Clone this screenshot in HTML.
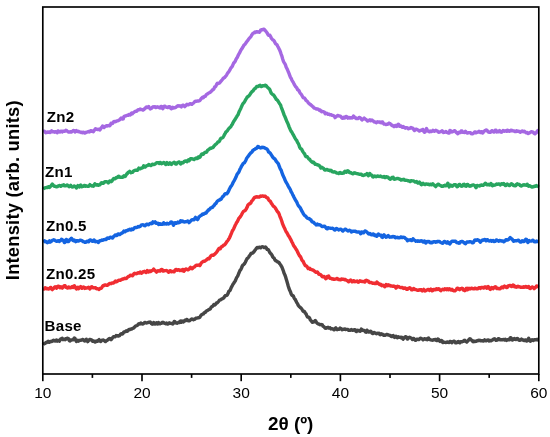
<!DOCTYPE html>
<html lang="en">
<head>
<meta charset="utf-8">
<title>XRD patterns</title>
<style>
html,body{margin:0;padding:0;background:#fff;}
body{width:550px;height:437px;overflow:hidden;font-family:"Liberation Sans",sans-serif;}
svg{display:block;}
.tick text{font-family:"Liberation Sans",sans-serif;font-size:15.5px;fill:#000;}
.b{font-family:"Liberation Sans",sans-serif;font-weight:bold;fill:#000;}
</style>
</head>
<body>
<svg width="550" height="437" viewBox="0 0 550 437">
<rect x="0" y="0" width="550" height="437" fill="#ffffff"/>
<g id="curves">
<path d="M43.1,344.9 43.8,343.9 44.5,343.5 45.2,343.3 45.9,342.5 46.6,342.5 47.4,342.0 48.1,341.4 48.8,342.4 49.5,342.3 50.2,341.4 50.9,341.4 51.6,341.6 52.3,341.2 53.0,340.6 53.7,340.2 54.4,340.9 55.1,341.0 55.9,340.5 56.6,340.0 57.3,341.1 58.0,340.6 58.7,340.4 59.4,341.2 60.1,340.0 60.8,338.8 61.5,338.6 62.2,338.3 62.9,339.6 63.7,339.3 64.4,339.2 65.1,339.7 65.8,338.8 66.5,339.0 67.2,338.1 67.9,338.3 68.6,338.9 69.3,340.7 70.0,341.0 70.7,340.0 71.4,340.1 72.2,339.9 72.9,339.9 73.6,339.0 74.3,338.1 75.0,338.4 75.7,340.2 76.4,341.5 77.1,340.6 77.8,340.2 78.5,341.2 79.2,340.7 80.0,340.3 80.7,340.3 81.4,340.1 82.1,339.7 82.8,339.4 83.5,340.3 84.2,340.7 84.9,341.1 85.6,340.1 86.3,339.2 87.0,340.5 87.7,341.6 88.5,340.6 89.2,339.7 89.9,339.4 90.6,339.6 91.3,340.0 92.0,340.2 92.7,341.3 93.4,340.9 94.1,341.1 94.8,342.0 95.5,342.0 96.3,341.0 97.0,341.1 97.7,341.2 98.4,340.3 99.1,339.6 99.8,340.9 100.5,341.5 101.2,341.0 101.9,340.1 102.6,340.1 103.3,340.0 104.1,340.4 104.8,341.3 105.5,341.5 106.2,340.8 106.9,340.4 107.6,340.0 108.3,339.4 109.0,338.8 109.7,338.4 110.4,338.8 111.1,339.7 111.8,338.9 112.6,337.6 113.3,336.9 114.0,336.6 114.7,336.9 115.4,336.6 116.1,335.6 116.8,335.9 117.5,335.8 118.2,336.1 118.9,335.8 119.6,335.6 120.4,334.4 121.1,333.8 121.8,333.9 122.5,334.0 123.2,333.1 123.9,331.9 124.6,331.9 125.3,331.6 126.0,331.0 126.7,330.8 127.4,331.3 128.1,330.2 128.9,329.5 129.6,329.7 130.3,329.4 131.0,329.0 131.7,329.0 132.4,328.6 133.1,328.2 133.8,328.0 134.5,327.2 135.2,326.3 135.9,325.8 136.7,325.6 137.4,325.4 138.1,324.4 138.8,323.8 139.5,324.1 140.2,323.4 140.9,323.0 141.6,323.9 142.3,323.8 143.0,324.0 143.7,323.4 144.4,322.7 145.2,322.5 145.9,322.9 146.6,323.0 147.3,322.7 148.0,322.6 148.7,322.2 149.4,322.4 150.1,321.9 150.8,322.7 151.5,323.7 152.2,324.2 153.0,324.0 153.7,322.5 154.4,323.4 155.1,324.1 155.8,323.7 156.5,322.7 157.2,323.5 157.9,324.0 158.6,322.6 159.3,323.3 160.0,323.8 160.7,323.1 161.5,323.2 162.2,322.5 162.9,322.3 163.6,322.6 164.3,323.2 165.0,323.5 165.7,323.8 166.4,323.0 167.1,323.3 167.8,324.1 168.5,323.7 169.3,322.8 170.0,323.3 170.7,323.2 171.4,323.5 172.1,323.7 172.8,324.0 173.5,323.0 174.2,321.5 174.9,321.7 175.6,322.9 176.3,323.0 177.0,323.3 177.8,322.8 178.5,322.3 179.2,322.6 179.9,321.4 180.6,321.0 181.3,322.2 182.0,321.0 182.7,321.6 183.4,322.0 184.1,321.1 184.8,320.2 185.6,320.8 186.3,319.7 187.0,319.4 187.7,320.1 188.4,320.9 189.1,320.8 189.8,320.6 190.5,319.9 191.2,319.4 191.9,318.9 192.6,319.3 193.4,319.7 194.1,319.3 194.8,319.2 195.5,318.5 196.2,318.1 196.9,318.1 197.6,317.9 198.3,317.8 199.0,317.6 199.7,317.5 200.4,316.2 201.1,315.2 201.9,314.4 202.6,314.3 203.3,314.0 204.0,312.9 204.7,312.5 205.4,312.3 206.1,311.3 206.8,310.7 207.5,310.6 208.2,309.9 208.9,309.5 209.7,309.4 210.4,308.7 211.1,307.4 211.8,306.6 212.5,306.4 213.2,305.5 213.9,304.5 214.6,305.0 215.3,304.5 216.0,303.8 216.7,302.8 217.4,302.8 218.2,301.8 218.9,301.0 219.6,300.1 220.3,299.9 221.0,299.5 221.7,299.1 222.4,298.7 223.1,298.3 223.8,297.8 224.5,296.6 225.2,295.7 226.0,295.5 226.7,295.3 227.4,294.8 228.1,293.3 228.8,291.4 229.5,290.9 230.2,290.2 230.9,288.4 231.6,286.8 232.3,285.6 233.0,284.2 233.7,283.2 234.5,282.0 235.2,281.0 235.9,279.3 236.6,277.6 237.3,276.6 238.0,275.4 238.7,273.5 239.4,271.8 240.1,270.2 240.8,269.6 241.5,268.0 242.3,266.0 243.0,264.9 243.7,264.5 244.4,263.8 245.1,262.6 245.8,261.3 246.5,259.6 247.2,258.5 247.9,258.1 248.6,257.1 249.3,256.0 250.0,255.2 250.8,253.7 251.5,253.2 252.2,253.3 252.9,253.0 253.6,252.0 254.3,251.3 255.0,250.1 255.7,249.3 256.4,248.4 257.1,247.5 257.8,247.6 258.6,247.7 259.3,247.2 260.0,247.4 260.7,247.8 261.4,247.1 262.1,246.8 262.8,246.9 263.5,246.9 264.2,247.6 264.9,247.4 265.6,247.1 266.3,247.9 267.1,249.4 267.8,249.4 268.5,249.9 269.2,251.3 269.9,252.6 270.6,253.5 271.3,254.1 272.0,255.2 272.7,256.8 273.4,257.6 274.1,258.1 274.9,259.9 275.6,260.7 276.3,260.8 277.0,261.3 277.7,262.0 278.4,262.2 279.1,262.7 279.8,263.9 280.5,264.6 281.2,266.0 281.9,267.0 282.6,268.9 283.4,271.0 284.1,273.3 284.8,274.7 285.5,276.6 286.2,279.0 286.9,281.3 287.6,283.7 288.3,286.2 289.0,288.4 289.7,290.3 290.4,291.6 291.2,294.0 291.9,295.3 292.6,295.5 293.3,295.9 294.0,297.7 294.7,299.0 295.4,299.6 296.1,301.3 296.8,302.6 297.5,303.6 298.2,305.2 299.0,306.3 299.7,306.8 300.4,307.7 301.1,308.2 301.8,309.0 302.5,310.2 303.2,311.2 303.9,311.3 304.6,311.7 305.3,313.2 306.0,313.8 306.7,315.4 307.5,317.0 308.2,317.2 308.9,317.2 309.6,318.1 310.3,319.9 311.0,320.6 311.7,321.5 312.4,322.2 313.1,322.1 313.8,322.0 314.5,321.4 315.3,320.5 316.0,321.5 316.7,322.8 317.4,323.4 318.1,323.9 318.8,324.0 319.5,324.4 320.2,324.8 320.9,324.5 321.6,324.6 322.3,324.9 323.0,326.2 323.8,326.6 324.5,327.3 325.2,328.1 325.9,328.2 326.6,327.8 327.3,327.9 328.0,327.3 328.7,328.1 329.4,328.1 330.1,327.8 330.8,328.9 331.6,328.6 332.3,328.9 333.0,328.9 333.7,329.7 334.4,329.7 335.1,328.4 335.8,327.9 336.5,328.9 337.2,329.7 337.9,329.2 338.6,329.2 339.3,329.2 340.1,328.1 340.8,328.6 341.5,329.0 342.2,329.7 342.9,329.4 343.6,329.1 344.3,329.2 345.0,329.0 345.7,329.5 346.4,329.4 347.1,329.4 347.9,329.5 348.6,330.3 349.3,330.1 350.0,330.3 350.7,330.1 351.4,329.5 352.1,330.1 352.8,330.3 353.5,330.1 354.2,329.7 354.9,329.8 355.6,331.0 356.4,331.5 357.1,330.3 357.8,330.4 358.5,330.5 359.2,331.0 359.9,331.3 360.6,330.8 361.3,329.1 362.0,329.6 362.7,330.2 363.4,330.6 364.2,330.5 364.9,330.9 365.6,332.1 366.3,332.2 367.0,330.2 367.7,331.0 368.4,332.0 369.1,332.0 369.8,331.6 370.5,331.2 371.2,331.7 371.9,333.1 372.7,333.6 373.4,333.0 374.1,332.5 374.8,333.0 375.5,333.2 376.2,333.7 376.9,333.6 377.6,333.3 378.3,333.4 379.0,333.3 379.7,334.5 380.5,334.7 381.2,333.8 381.9,334.1 382.6,334.1 383.3,335.1 384.0,335.4 384.7,335.0 385.4,335.3 386.1,334.7 386.8,334.4 387.5,334.6 388.2,335.0 389.0,335.2 389.7,335.4 390.4,335.5 391.1,336.4 391.8,336.6 392.5,335.8 393.2,335.5 393.9,336.8 394.6,337.4 395.3,336.7 396.0,336.2 396.8,337.3 397.5,337.8 398.2,336.7 398.9,337.4 399.6,337.4 400.3,337.3 401.0,337.7 401.7,337.3 402.4,338.3 403.1,339.1 403.8,338.4 404.6,337.3 405.3,336.7 406.0,336.7 406.7,337.3 407.4,339.1 408.1,338.5 408.8,337.6 409.5,337.3 410.2,337.6 410.9,338.0 411.6,338.3 412.3,339.5 413.1,338.6 413.8,338.4 414.5,339.4 415.2,340.4 415.9,340.2 416.6,339.2 417.3,339.2 418.0,339.4 418.7,339.6 419.4,339.3 420.1,338.4 420.9,338.2 421.6,338.8 422.3,338.9 423.0,339.9 423.7,339.4 424.4,338.6 425.1,338.8 425.8,339.0 426.5,339.5 427.2,339.7 427.9,338.4 428.6,338.1 429.4,339.4 430.1,339.7 430.8,339.9 431.5,340.1 432.2,340.1 432.9,340.2 433.6,339.7 434.3,339.8 435.0,339.4 435.7,339.5 436.4,340.6 437.2,340.5 437.9,339.1 438.6,339.5 439.3,340.8 440.0,341.4 440.7,340.7 441.4,340.5 442.1,340.8 442.8,342.6 443.5,342.4 444.2,342.3 444.9,342.4 445.7,342.5 446.4,342.3 447.1,341.9 447.8,342.2 448.5,342.3 449.2,342.5 449.9,341.5 450.6,341.4 451.3,342.3 452.0,342.7 452.7,341.9 453.5,341.2 454.2,341.3 454.9,341.7 455.6,342.9 456.3,342.8 457.0,342.6 457.7,341.8 458.4,341.4 459.1,342.3 459.8,342.8 460.5,342.0 461.2,341.6 462.0,341.8 462.7,341.3 463.4,341.3 464.1,340.5 464.8,340.3 465.5,341.1 466.2,341.6 466.9,342.1 467.6,341.0 468.3,340.4 469.0,339.5 469.8,338.7 470.5,339.1 471.2,340.1 471.9,340.1 472.6,341.3 473.3,341.7 474.0,341.1 474.7,341.6 475.4,341.3 476.1,341.3 476.8,340.8 477.5,340.9 478.3,340.2 479.0,340.6 479.7,340.3 480.4,340.5 481.1,340.9 481.8,340.8 482.5,340.7 483.2,341.1 483.9,340.9 484.6,339.9 485.3,340.7 486.1,340.9 486.8,340.2 487.5,340.2 488.2,340.0 488.9,341.0 489.6,340.5 490.3,340.5 491.0,340.9 491.7,340.4 492.4,340.2 493.1,339.3 493.9,339.0 494.6,338.8 495.3,339.5 496.0,340.4 496.7,340.2 497.4,340.0 498.1,338.9 498.8,338.6 499.5,339.1 500.2,339.8 500.9,339.8 501.6,339.6 502.4,339.8 503.1,339.4 503.8,339.6 504.5,340.0 505.2,339.3 505.9,339.7 506.6,340.4 507.3,339.9 508.0,339.6 508.7,339.4 509.4,339.8 510.2,337.9 510.9,337.7 511.6,338.6 512.3,340.1 513.0,339.8 513.7,338.9 514.4,338.6 515.1,339.4 515.8,339.5 516.5,338.8 517.2,338.4 517.9,338.8 518.7,339.9 519.4,340.3 520.1,340.2 520.8,339.7 521.5,339.1 522.2,339.8 522.9,339.8 523.6,340.4 524.3,340.6 525.0,339.9 525.7,339.9 526.5,341.0 527.2,340.8 527.9,339.4 528.6,338.3 529.3,339.9 530.0,341.1 530.7,341.2 531.4,340.1 532.1,339.7 532.8,340.1 533.5,340.5 534.2,339.7 535.0,339.7 535.7,339.6 536.4,339.8 537.1,339.3 537.8,339.9 538.5,340.2" fill="none" stroke="#464646" stroke-width="3.4" stroke-linejoin="round" stroke-linecap="butt"/>
<path d="M43.1,288.6 43.8,289.0 44.5,288.8 45.2,287.7 45.9,288.6 46.6,288.7 47.4,288.4 48.1,289.0 48.8,288.8 49.5,288.7 50.2,287.7 50.9,287.5 51.6,288.9 52.3,289.6 53.0,288.9 53.7,288.4 54.4,287.3 55.1,286.7 55.9,287.5 56.6,288.1 57.3,286.6 58.0,286.3 58.7,286.2 59.4,287.3 60.1,287.7 60.8,286.7 61.5,287.1 62.2,288.1 62.9,287.3 63.7,286.2 64.4,285.7 65.1,285.8 65.8,287.2 66.5,287.2 67.2,288.0 67.9,288.0 68.6,287.0 69.3,287.1 70.0,287.8 70.7,287.7 71.4,287.3 72.2,286.6 72.9,287.4 73.6,286.6 74.3,285.7 75.0,286.7 75.7,288.1 76.4,288.9 77.1,287.5 77.8,287.2 78.5,288.7 79.2,288.1 80.0,287.2 80.7,286.6 81.4,287.1 82.1,288.3 82.8,287.7 83.5,287.1 84.2,287.5 84.9,288.4 85.6,287.8 86.3,288.0 87.0,288.0 87.7,287.7 88.5,287.3 89.2,288.3 89.9,288.9 90.6,287.8 91.3,286.9 92.0,286.8 92.7,287.6 93.4,287.8 94.1,287.9 94.8,287.8 95.5,287.6 96.3,288.6 97.0,288.8 97.7,288.7 98.4,289.0 99.1,289.4 99.8,288.7 100.5,288.2 101.2,288.4 101.9,287.3 102.6,286.2 103.3,285.5 104.1,285.5 104.8,285.0 105.5,285.0 106.2,285.2 106.9,285.1 107.6,285.2 108.3,284.6 109.0,283.8 109.7,283.5 110.4,283.4 111.1,283.7 111.8,283.2 112.6,282.9 113.3,283.1 114.0,282.6 114.7,281.7 115.4,281.1 116.1,281.7 116.8,281.7 117.5,281.2 118.2,280.6 118.9,280.1 119.6,280.2 120.4,280.2 121.1,279.8 121.8,279.4 122.5,279.0 123.2,279.1 123.9,278.8 124.6,278.2 125.3,278.6 126.0,278.6 126.7,278.2 127.4,277.3 128.1,276.7 128.9,276.2 129.6,276.2 130.3,275.1 131.0,275.2 131.7,275.5 132.4,275.7 133.1,275.0 133.8,273.9 134.5,273.3 135.2,273.5 135.9,273.8 136.7,273.6 137.4,273.1 138.1,272.7 138.8,272.8 139.5,273.0 140.2,272.1 140.9,272.5 141.6,273.2 142.3,272.6 143.0,271.8 143.7,271.8 144.4,271.3 145.2,271.6 145.9,272.6 146.6,272.3 147.3,270.6 148.0,271.4 148.7,272.0 149.4,270.9 150.1,271.0 150.8,271.4 151.5,270.6 152.2,270.6 153.0,270.0 153.7,269.1 154.4,270.1 155.1,270.5 155.8,271.4 156.5,272.1 157.2,271.3 157.9,270.6 158.6,270.8 159.3,271.1 160.0,271.1 160.7,269.9 161.5,269.4 162.2,269.6 162.9,271.0 163.6,271.1 164.3,270.7 165.0,270.6 165.7,270.6 166.4,270.5 167.1,270.8 167.8,271.3 168.5,272.2 169.3,271.7 170.0,270.7 170.7,270.9 171.4,271.9 172.1,271.7 172.8,271.5 173.5,271.8 174.2,271.7 174.9,270.2 175.6,269.6 176.3,269.4 177.0,270.4 177.8,270.2 178.5,269.7 179.2,269.9 179.9,270.6 180.6,270.3 181.3,270.2 182.0,270.7 182.7,269.5 183.4,269.7 184.1,271.2 184.8,270.1 185.6,269.2 186.3,269.0 187.0,269.3 187.7,269.8 188.4,269.7 189.1,269.2 189.8,268.2 190.5,267.4 191.2,268.2 191.9,268.8 192.6,268.3 193.4,267.4 194.1,267.2 194.8,266.5 195.5,265.9 196.2,265.2 196.9,265.2 197.6,265.3 198.3,265.0 199.0,265.3 199.7,265.6 200.4,264.7 201.1,263.3 201.9,262.3 202.6,261.8 203.3,261.3 204.0,261.4 204.7,261.3 205.4,260.7 206.1,260.2 206.8,259.6 207.5,258.9 208.2,258.4 208.9,258.9 209.7,258.1 210.4,256.5 211.1,255.7 211.8,255.3 212.5,255.3 213.2,255.4 213.9,254.9 214.6,254.2 215.3,253.6 216.0,252.9 216.7,252.0 217.4,251.0 218.2,249.8 218.9,248.5 219.6,248.6 220.3,248.8 221.0,247.3 221.7,246.5 222.4,246.5 223.1,245.6 223.8,244.9 224.5,245.0 225.2,244.2 226.0,243.1 226.7,241.8 227.4,241.1 228.1,240.1 228.8,239.0 229.5,237.8 230.2,236.3 230.9,234.5 231.6,232.9 232.3,231.0 233.0,230.0 233.7,228.7 234.5,226.9 235.2,225.3 235.9,224.0 236.6,222.5 237.3,221.6 238.0,220.3 238.7,218.6 239.4,217.7 240.1,217.0 240.8,216.0 241.5,214.8 242.3,213.3 243.0,212.0 243.7,211.2 244.4,210.9 245.1,210.7 245.8,209.6 246.5,208.5 247.2,207.1 247.9,205.1 248.6,204.3 249.3,203.8 250.0,203.7 250.8,203.0 251.5,201.4 252.2,200.6 252.9,199.9 253.6,198.7 254.3,197.7 255.0,197.2 255.7,197.2 256.4,196.7 257.1,197.1 257.8,196.9 258.6,197.1 259.3,197.1 260.0,196.3 260.7,196.0 261.4,196.3 262.1,195.9 262.8,196.0 263.5,196.3 264.2,196.4 264.9,196.1 265.6,196.5 266.3,197.4 267.1,197.9 267.8,197.9 268.5,199.6 269.2,200.6 269.9,200.9 270.6,201.7 271.3,203.2 272.0,204.1 272.7,205.2 273.4,206.2 274.1,206.6 274.9,207.4 275.6,208.5 276.3,209.6 277.0,211.0 277.7,211.9 278.4,212.5 279.1,213.9 279.8,216.1 280.5,217.7 281.2,219.5 281.9,221.5 282.6,223.9 283.4,225.7 284.1,227.3 284.8,228.7 285.5,230.4 286.2,231.9 286.9,232.7 287.6,234.1 288.3,235.5 289.0,236.4 289.7,237.5 290.4,238.9 291.2,240.3 291.9,242.0 292.6,243.2 293.3,245.0 294.0,246.3 294.7,246.9 295.4,248.2 296.1,249.3 296.8,250.3 297.5,251.7 298.2,253.2 299.0,254.9 299.7,256.0 300.4,256.6 301.1,258.0 301.8,259.8 302.5,260.9 303.2,261.3 303.9,263.2 304.6,264.4 305.3,265.6 306.0,265.8 306.7,266.2 307.5,267.4 308.2,268.6 308.9,268.5 309.6,268.2 310.3,269.4 311.0,269.4 311.7,269.7 312.4,270.0 313.1,270.0 313.8,270.6 314.5,271.2 315.3,271.8 316.0,272.3 316.7,272.2 317.4,271.9 318.1,272.9 318.8,274.1 319.5,274.4 320.2,274.4 320.9,275.0 321.6,275.7 322.3,276.6 323.0,276.9 323.8,276.4 324.5,276.7 325.2,278.0 325.9,278.7 326.6,278.1 327.3,276.4 328.0,276.4 328.7,276.0 329.4,277.8 330.1,278.3 330.8,278.3 331.6,278.6 332.3,279.1 333.0,278.8 333.7,279.3 334.4,279.3 335.1,279.1 335.8,279.1 336.5,278.7 337.2,278.4 337.9,279.3 338.6,279.6 339.3,279.4 340.1,279.9 340.8,279.8 341.5,278.9 342.2,279.1 342.9,279.2 343.6,279.2 344.3,279.7 345.0,279.4 345.7,279.7 346.4,280.3 347.1,280.6 347.9,281.1 348.6,281.8 349.3,280.8 350.0,280.4 350.7,280.1 351.4,281.0 352.1,281.9 352.8,281.7 353.5,280.7 354.2,280.9 354.9,281.7 355.6,281.4 356.4,281.4 357.1,281.0 357.8,282.0 358.5,282.2 359.2,281.6 359.9,280.8 360.6,281.0 361.3,281.4 362.0,281.5 362.7,281.4 363.4,281.4 364.2,281.9 364.9,282.1 365.6,280.5 366.3,280.2 367.0,280.5 367.7,280.9 368.4,281.1 369.1,282.3 369.8,282.6 370.5,282.4 371.2,282.4 371.9,282.9 372.7,283.3 373.4,283.3 374.1,283.1 374.8,283.5 375.5,283.1 376.2,283.5 376.9,282.1 377.6,282.7 378.3,283.4 379.0,284.2 379.7,284.0 380.5,285.0 381.2,284.5 381.9,285.7 382.6,285.5 383.3,285.2 384.0,285.8 384.7,286.8 385.4,285.8 386.1,284.5 386.8,285.8 387.5,285.6 388.2,284.9 389.0,285.6 389.7,285.3 390.4,285.9 391.1,286.1 391.8,286.0 392.5,286.3 393.2,285.9 393.9,286.3 394.6,286.3 395.3,286.9 396.0,288.0 396.8,287.2 397.5,286.3 398.2,286.6 398.9,286.7 399.6,287.2 400.3,287.5 401.0,287.6 401.7,287.5 402.4,287.5 403.1,288.2 403.8,288.5 404.6,287.9 405.3,288.0 406.0,288.6 406.7,289.4 407.4,289.3 408.1,288.5 408.8,288.3 409.5,287.7 410.2,288.1 410.9,289.0 411.6,289.8 412.3,289.9 413.1,289.0 413.8,288.5 414.5,289.3 415.2,289.5 415.9,289.7 416.6,289.9 417.3,290.2 418.0,290.3 418.7,290.2 419.4,289.7 420.1,290.0 420.9,289.6 421.6,290.0 422.3,290.9 423.0,290.1 423.7,289.4 424.4,290.6 425.1,291.0 425.8,290.7 426.5,290.2 427.2,289.9 427.9,289.5 428.6,289.5 429.4,290.4 430.1,289.6 430.8,289.1 431.5,289.6 432.2,290.8 432.9,290.4 433.6,289.4 434.3,289.5 435.0,289.9 435.7,289.7 436.4,288.7 437.2,289.5 437.9,289.2 438.6,288.7 439.3,289.1 440.0,290.2 440.7,290.7 441.4,290.0 442.1,289.7 442.8,289.2 443.5,289.9 444.2,289.9 444.9,288.8 445.7,289.2 446.4,289.7 447.1,288.7 447.8,289.3 448.5,289.7 449.2,288.7 449.9,289.2 450.6,289.9 451.3,290.1 452.0,289.4 452.7,290.3 453.5,290.5 454.2,290.9 454.9,290.9 455.6,290.3 456.3,289.7 457.0,288.4 457.7,288.2 458.4,288.6 459.1,289.4 459.8,289.7 460.5,288.6 461.2,288.7 462.0,288.3 462.7,288.6 463.4,290.1 464.1,290.2 464.8,290.7 465.5,290.2 466.2,288.5 466.9,288.3 467.6,289.8 468.3,288.9 469.0,288.3 469.8,289.0 470.5,288.9 471.2,288.2 471.9,288.3 472.6,288.6 473.3,288.8 474.0,288.9 474.7,288.3 475.4,288.2 476.1,288.7 476.8,288.8 477.5,288.9 478.3,288.2 479.0,287.7 479.7,287.6 480.4,288.4 481.1,287.4 481.8,287.5 482.5,287.4 483.2,288.0 483.9,288.0 484.6,286.9 485.3,286.9 486.1,286.9 486.8,288.2 487.5,287.4 488.2,286.5 488.9,287.3 489.6,288.8 490.3,289.4 491.0,288.8 491.7,287.6 492.4,287.9 493.1,288.7 493.9,287.6 494.6,287.2 495.3,286.8 496.0,287.1 496.7,288.5 497.4,288.6 498.1,288.4 498.8,288.5 499.5,288.9 500.2,288.9 500.9,287.9 501.6,287.2 502.4,287.0 503.1,287.7 503.8,286.9 504.5,286.1 505.2,286.6 505.9,287.0 506.6,287.5 507.3,287.3 508.0,286.1 508.7,285.7 509.4,285.7 510.2,285.4 510.9,286.0 511.6,286.5 512.3,286.0 513.0,285.0 513.7,285.5 514.4,286.7 515.1,286.3 515.8,287.0 516.5,287.2 517.2,286.6 517.9,286.3 518.7,286.8 519.4,286.7 520.1,287.1 520.8,287.3 521.5,287.1 522.2,287.3 522.9,287.2 523.6,286.8 524.3,287.2 525.0,286.9 525.7,286.4 526.5,287.1 527.2,287.3 527.9,286.8 528.6,286.5 529.3,287.9 530.0,288.5 530.7,288.3 531.4,287.7 532.1,286.9 532.8,287.2 533.5,287.5 534.2,288.6 535.0,287.7 535.7,287.3 536.4,286.2 537.1,286.0 537.8,286.6 538.5,287.3" fill="none" stroke="#F02D32" stroke-width="3.4" stroke-linejoin="round" stroke-linecap="butt"/>
<path d="M43.1,242.1 43.8,241.6 44.5,240.8 45.2,241.5 45.9,241.4 46.6,242.4 47.4,242.7 48.1,242.1 48.8,241.5 49.5,240.9 50.2,242.1 50.9,241.6 51.6,241.1 52.3,240.3 53.0,240.1 53.7,239.8 54.4,240.1 55.1,240.5 55.9,240.9 56.6,241.4 57.3,241.1 58.0,240.7 58.7,240.9 59.4,241.5 60.1,240.7 60.8,240.5 61.5,239.2 62.2,239.5 62.9,240.3 63.7,241.0 64.4,242.6 65.1,242.2 65.8,239.7 66.5,239.4 67.2,240.4 67.9,241.6 68.6,241.5 69.3,240.5 70.0,239.4 70.7,239.0 71.4,238.3 72.2,239.1 72.9,240.5 73.6,240.8 74.3,240.0 75.0,240.7 75.7,241.6 76.4,241.0 77.1,240.6 77.8,241.0 78.5,241.1 79.2,240.7 80.0,240.2 80.7,240.2 81.4,240.5 82.1,240.6 82.8,241.5 83.5,241.7 84.2,241.9 84.9,242.4 85.6,242.3 86.3,241.9 87.0,241.1 87.7,241.1 88.5,241.8 89.2,240.6 89.9,239.9 90.6,240.0 91.3,240.7 92.0,241.2 92.7,241.4 93.4,240.5 94.1,240.0 94.8,241.0 95.5,241.7 96.3,241.4 97.0,241.4 97.7,242.0 98.4,242.4 99.1,241.5 99.8,240.6 100.5,240.7 101.2,240.6 101.9,239.9 102.6,240.3 103.3,239.8 104.1,239.8 104.8,239.5 105.5,239.3 106.2,239.5 106.9,238.5 107.6,238.0 108.3,238.3 109.0,238.4 109.7,237.6 110.4,237.1 111.1,237.5 111.8,237.8 112.6,238.0 113.3,236.9 114.0,236.3 114.7,235.5 115.4,235.0 116.1,235.5 116.8,235.6 117.5,234.5 118.2,234.0 118.9,234.0 119.6,234.6 120.4,233.9 121.1,233.7 121.8,233.0 122.5,232.8 123.2,232.0 123.9,231.1 124.6,231.8 125.3,231.7 126.0,230.6 126.7,230.7 127.4,230.5 128.1,230.0 128.9,229.8 129.6,229.2 130.3,229.9 131.0,230.0 131.7,228.9 132.4,229.1 133.1,229.5 133.8,228.7 134.5,227.8 135.2,227.4 135.9,227.6 136.7,227.5 137.4,227.2 138.1,226.5 138.8,226.9 139.5,226.6 140.2,226.4 140.9,225.5 141.6,224.9 142.3,224.9 143.0,224.8 143.7,225.0 144.4,225.6 145.2,225.7 145.9,224.9 146.6,224.2 147.3,224.1 148.0,224.6 148.7,224.7 149.4,223.9 150.1,223.5 150.8,223.2 151.5,223.7 152.2,223.4 153.0,221.9 153.7,222.7 154.4,222.5 155.1,221.9 155.8,223.0 156.5,223.4 157.2,223.3 157.9,223.1 158.6,224.4 159.3,223.8 160.0,223.6 160.7,224.4 161.5,224.3 162.2,224.3 162.9,223.9 163.6,222.8 164.3,224.0 165.0,223.7 165.7,223.8 166.4,224.0 167.1,223.3 167.8,223.7 168.5,224.0 169.3,223.6 170.0,223.3 170.7,222.2 171.4,222.0 172.1,222.3 172.8,223.8 173.5,225.2 174.2,223.8 174.9,222.8 175.6,222.8 176.3,223.3 177.0,222.9 177.8,222.1 178.5,222.7 179.2,222.6 179.9,222.2 180.6,220.8 181.3,220.9 182.0,221.6 182.7,221.1 183.4,221.7 184.1,222.0 184.8,221.8 185.6,221.8 186.3,221.6 187.0,221.4 187.7,221.0 188.4,221.4 189.1,222.6 189.8,221.9 190.5,221.1 191.2,220.4 191.9,219.8 192.6,219.8 193.4,219.7 194.1,219.7 194.8,218.4 195.5,217.4 196.2,218.1 196.9,219.1 197.6,219.6 198.3,218.4 199.0,216.9 199.7,216.4 200.4,215.8 201.1,215.5 201.9,214.7 202.6,214.0 203.3,214.3 204.0,213.9 204.7,213.3 205.4,213.2 206.1,213.1 206.8,211.9 207.5,211.0 208.2,210.5 208.9,209.4 209.7,209.3 210.4,208.3 211.1,207.6 211.8,207.6 212.5,207.4 213.2,206.2 213.9,205.8 214.6,204.9 215.3,203.7 216.0,203.4 216.7,202.2 217.4,201.1 218.2,200.6 218.9,200.2 219.6,200.0 220.3,199.3 221.0,199.2 221.7,198.2 222.4,197.0 223.1,196.3 223.8,195.8 224.5,194.4 225.2,193.7 226.0,193.9 226.7,193.9 227.4,193.1 228.1,192.0 228.8,190.5 229.5,188.8 230.2,187.7 230.9,186.4 231.6,185.6 232.3,184.2 233.0,182.7 233.7,181.5 234.5,180.1 235.2,178.7 235.9,177.3 236.6,175.5 237.3,173.9 238.0,173.1 238.7,172.2 239.4,170.7 240.1,169.0 240.8,167.7 241.5,166.2 242.3,165.1 243.0,163.8 243.7,163.1 244.4,162.8 245.1,161.7 245.8,160.5 246.5,158.7 247.2,157.5 247.9,156.7 248.6,155.8 249.3,154.7 250.0,153.9 250.8,152.8 251.5,152.5 252.2,151.6 252.9,150.3 253.6,150.0 254.3,149.5 255.0,149.2 255.7,148.5 256.4,148.3 257.1,147.8 257.8,146.5 258.6,146.6 259.3,147.4 260.0,147.7 260.7,148.0 261.4,147.7 262.1,147.2 262.8,147.6 263.5,147.5 264.2,147.7 264.9,148.1 265.6,148.5 266.3,148.6 267.1,149.1 267.8,150.1 268.5,151.9 269.2,152.3 269.9,152.9 270.6,153.7 271.3,154.8 272.0,155.9 272.7,157.1 273.4,157.9 274.1,158.5 274.9,159.0 275.6,160.1 276.3,161.4 277.0,162.2 277.7,163.0 278.4,163.9 279.1,165.8 279.8,167.7 280.5,169.2 281.2,170.2 281.9,172.4 282.6,174.5 283.4,176.2 284.1,177.7 284.8,179.5 285.5,181.1 286.2,182.3 286.9,183.5 287.6,184.8 288.3,186.2 289.0,187.5 289.7,188.5 290.4,189.8 291.2,191.8 291.9,192.9 292.6,194.4 293.3,195.8 294.0,197.3 294.7,198.6 295.4,200.0 296.1,201.0 296.8,202.1 297.5,203.9 298.2,205.4 299.0,206.3 299.7,207.1 300.4,208.0 301.1,209.5 301.8,211.0 302.5,212.1 303.2,213.5 303.9,214.5 304.6,215.4 305.3,215.9 306.0,216.5 306.7,217.5 307.5,218.2 308.2,218.5 308.9,218.5 309.6,219.0 310.3,219.7 311.0,219.9 311.7,221.4 312.4,222.0 313.1,222.1 313.8,222.5 314.5,223.4 315.3,223.9 316.0,224.9 316.7,224.6 317.4,224.0 318.1,224.8 318.8,224.7 319.5,224.7 320.2,225.1 320.9,225.5 321.6,226.1 322.3,226.6 323.0,226.6 323.8,226.2 324.5,226.1 325.2,226.7 325.9,227.8 326.6,228.7 327.3,228.9 328.0,227.7 328.7,227.9 329.4,228.1 330.1,228.1 330.8,228.4 331.6,228.4 332.3,228.3 333.0,228.4 333.7,229.1 334.4,229.9 335.1,230.1 335.8,229.0 336.5,228.5 337.2,228.9 337.9,229.2 338.6,229.9 339.3,229.5 340.1,229.4 340.8,229.1 341.5,229.6 342.2,230.5 342.9,231.0 343.6,230.3 344.3,230.0 345.0,229.1 345.7,229.2 346.4,229.8 347.1,230.3 347.9,231.0 348.6,230.9 349.3,230.2 350.0,230.7 350.7,230.9 351.4,232.0 352.1,231.7 352.8,231.3 353.5,231.2 354.2,231.3 354.9,231.3 355.6,231.2 356.4,231.9 357.1,232.0 357.8,232.1 358.5,232.0 359.2,232.0 359.9,232.3 360.6,233.7 361.3,232.2 362.0,231.9 362.7,232.8 363.4,232.9 364.2,231.8 364.9,231.0 365.6,231.2 366.3,231.7 367.0,232.2 367.7,232.9 368.4,233.9 369.1,234.0 369.8,233.5 370.5,234.0 371.2,234.6 371.9,234.9 372.7,234.2 373.4,234.0 374.1,235.0 374.8,235.5 375.5,235.1 376.2,236.2 376.9,236.2 377.6,234.9 378.3,234.1 379.0,234.5 379.7,235.1 380.5,235.4 381.2,235.3 381.9,237.2 382.6,237.4 383.3,235.6 384.0,234.8 384.7,235.7 385.4,236.6 386.1,237.3 386.8,237.0 387.5,236.1 388.2,235.5 389.0,236.7 389.7,237.2 390.4,236.9 391.1,237.0 391.8,237.1 392.5,236.7 393.2,236.5 393.9,236.9 394.6,236.8 395.3,237.7 396.0,237.3 396.8,237.5 397.5,237.3 398.2,237.7 398.9,237.8 399.6,237.9 400.3,237.2 401.0,236.9 401.7,237.5 402.4,237.6 403.1,237.3 403.8,237.4 404.6,237.5 405.3,238.4 406.0,238.7 406.7,239.5 407.4,240.7 408.1,240.0 408.8,239.9 409.5,240.0 410.2,239.7 410.9,239.7 411.6,240.6 412.3,240.3 413.1,238.8 413.8,239.7 414.5,240.2 415.2,240.5 415.9,241.2 416.6,240.9 417.3,241.2 418.0,240.8 418.7,241.0 419.4,241.4 420.1,241.0 420.9,241.0 421.6,240.7 422.3,241.0 423.0,242.0 423.7,242.0 424.4,241.0 425.1,241.4 425.8,243.0 426.5,241.9 427.2,241.4 427.9,241.9 428.6,241.5 429.4,241.7 430.1,242.6 430.8,242.7 431.5,242.3 432.2,242.7 432.9,242.1 433.6,241.7 434.3,241.8 435.0,241.8 435.7,242.2 436.4,242.0 437.2,241.5 437.9,241.7 438.6,241.5 439.3,241.4 440.0,241.9 440.7,242.6 441.4,242.6 442.1,243.1 442.8,243.2 443.5,242.2 444.2,241.5 444.9,241.5 445.7,242.2 446.4,243.0 447.1,243.0 447.8,241.9 448.5,242.7 449.2,243.5 449.9,243.9 450.6,242.8 451.3,241.9 452.0,241.1 452.7,241.2 453.5,241.2 454.2,241.2 454.9,241.2 455.6,241.2 456.3,242.1 457.0,242.7 457.7,242.9 458.4,242.8 459.1,243.2 459.8,243.0 460.5,241.7 461.2,241.7 462.0,241.4 462.7,241.6 463.4,242.2 464.1,242.6 464.8,243.5 465.5,243.8 466.2,242.8 466.9,242.0 467.6,241.9 468.3,242.0 469.0,242.0 469.8,241.6 470.5,241.9 471.2,241.9 471.9,242.5 472.6,242.9 473.3,242.7 474.0,241.4 474.7,240.2 475.4,240.0 476.1,240.4 476.8,239.9 477.5,239.8 478.3,240.3 479.0,240.5 479.7,241.5 480.4,242.1 481.1,241.2 481.8,240.6 482.5,239.9 483.2,240.3 483.9,240.0 484.6,239.5 485.3,239.6 486.1,240.8 486.8,239.8 487.5,239.6 488.2,240.5 488.9,240.9 489.6,241.0 490.3,240.7 491.0,240.5 491.7,241.2 492.4,240.9 493.1,240.5 493.9,241.6 494.6,241.3 495.3,241.2 496.0,240.2 496.7,240.0 497.4,240.4 498.1,240.8 498.8,241.2 499.5,240.4 500.2,240.7 500.9,240.6 501.6,241.1 502.4,241.0 503.1,241.0 503.8,241.8 504.5,241.2 505.2,240.8 505.9,239.7 506.6,239.8 507.3,240.1 508.0,239.9 508.7,239.4 509.4,238.5 510.2,237.5 510.9,238.4 511.6,238.8 512.3,239.4 513.0,240.5 513.7,241.3 514.4,240.7 515.1,240.7 515.8,240.7 516.5,240.7 517.2,240.6 517.9,240.3 518.7,240.3 519.4,241.1 520.1,242.0 520.8,242.0 521.5,241.8 522.2,240.7 522.9,241.1 523.6,241.5 524.3,241.3 525.0,240.1 525.7,239.3 526.5,239.4 527.2,241.0 527.9,242.5 528.6,241.6 529.3,240.6 530.0,241.1 530.7,241.1 531.4,241.1 532.1,240.7 532.8,240.2 533.5,240.7 534.2,241.6 535.0,241.8 535.7,241.8 536.4,241.1 537.1,241.6 537.8,241.5 538.5,241.5" fill="none" stroke="#1464E1" stroke-width="3.4" stroke-linejoin="round" stroke-linecap="butt"/>
<path d="M43.1,189.3 43.8,188.4 44.5,188.0 45.2,187.8 45.9,187.6 46.6,187.5 47.4,187.5 48.1,186.8 48.8,186.6 49.5,187.5 50.2,186.6 50.9,186.0 51.6,185.0 52.3,184.1 53.0,184.9 53.7,185.8 54.4,186.2 55.1,186.2 55.9,186.6 56.6,186.9 57.3,186.7 58.0,186.1 58.7,185.8 59.4,185.5 60.1,185.6 60.8,186.3 61.5,185.4 62.2,185.6 62.9,185.5 63.7,184.7 64.4,185.8 65.1,185.8 65.8,185.8 66.5,185.4 67.2,184.9 67.9,185.7 68.6,186.3 69.3,186.7 70.0,186.2 70.7,185.4 71.4,186.6 72.2,187.0 72.9,186.9 73.6,186.5 74.3,186.0 75.0,186.4 75.7,186.8 76.4,188.0 77.1,186.6 77.8,185.6 78.5,186.2 79.2,187.0 80.0,185.7 80.7,185.0 81.4,186.7 82.1,186.7 82.8,186.2 83.5,186.3 84.2,185.5 84.9,185.4 85.6,186.3 86.3,186.0 87.0,186.2 87.7,186.2 88.5,186.4 89.2,185.6 89.9,184.6 90.6,185.5 91.3,185.6 92.0,186.0 92.7,186.0 93.4,186.2 94.1,184.9 94.8,183.8 95.5,184.5 96.3,185.1 97.0,184.6 97.7,184.6 98.4,185.3 99.1,184.8 99.8,184.8 100.5,184.1 101.2,182.9 101.9,182.8 102.6,183.2 103.3,183.3 104.1,182.5 104.8,181.8 105.5,181.8 106.2,181.9 106.9,181.7 107.6,182.0 108.3,182.9 109.0,182.0 109.7,181.0 110.4,181.2 111.1,181.8 111.8,181.2 112.6,180.1 113.3,178.9 114.0,178.4 114.7,178.8 115.4,178.6 116.1,177.6 116.8,177.4 117.5,177.5 118.2,176.4 118.9,176.3 119.6,177.1 120.4,177.4 121.1,177.2 121.8,177.3 122.5,177.3 123.2,176.5 123.9,175.9 124.6,176.6 125.3,176.3 126.0,175.2 126.7,174.0 127.4,173.5 128.1,172.4 128.9,172.1 129.6,171.4 130.3,172.0 131.0,172.7 131.7,172.4 132.4,172.4 133.1,171.5 133.8,170.9 134.5,170.5 135.2,170.4 135.9,170.1 136.7,170.4 137.4,170.3 138.1,169.1 138.8,168.1 139.5,168.6 140.2,168.9 140.9,168.4 141.6,167.9 142.3,168.0 143.0,167.4 143.7,165.8 144.4,166.9 145.2,167.0 145.9,166.3 146.6,165.6 147.3,165.6 148.0,165.4 148.7,164.5 149.4,165.0 150.1,165.2 150.8,165.6 151.5,165.1 152.2,164.3 153.0,164.3 153.7,164.5 154.4,164.3 155.1,164.1 155.8,163.3 156.5,162.8 157.2,162.8 157.9,162.6 158.6,163.0 159.3,163.4 160.0,162.5 160.7,162.7 161.5,163.7 162.2,163.4 162.9,163.2 163.6,162.5 164.3,162.6 165.0,163.5 165.7,164.5 166.4,163.8 167.1,162.6 167.8,163.6 168.5,164.3 169.3,163.8 170.0,162.8 170.7,163.6 171.4,164.5 172.1,163.4 172.8,163.2 173.5,162.7 174.2,162.3 174.9,163.0 175.6,164.1 176.3,164.1 177.0,162.9 177.8,162.6 178.5,162.1 179.2,161.9 179.9,163.2 180.6,164.0 181.3,163.6 182.0,162.6 182.7,162.9 183.4,162.6 184.1,161.6 184.8,161.2 185.6,161.0 186.3,161.4 187.0,161.7 187.7,160.3 188.4,159.8 189.1,160.6 189.8,160.0 190.5,158.7 191.2,158.6 191.9,158.8 192.6,158.9 193.4,159.4 194.1,159.5 194.8,158.8 195.5,158.3 196.2,158.0 196.9,158.5 197.6,158.3 198.3,157.1 199.0,156.7 199.7,157.4 200.4,156.5 201.1,154.8 201.9,153.9 202.6,154.2 203.3,154.3 204.0,153.3 204.7,152.6 205.4,152.2 206.1,152.3 206.8,151.9 207.5,150.4 208.2,149.9 208.9,149.4 209.7,148.7 210.4,148.1 211.1,148.3 211.8,147.9 212.5,147.7 213.2,147.3 213.9,146.1 214.6,145.5 215.3,144.6 216.0,144.1 216.7,143.6 217.4,142.6 218.2,141.7 218.9,141.9 219.6,140.8 220.3,139.2 221.0,138.1 221.7,138.1 222.4,137.9 223.1,137.2 223.8,136.0 224.5,134.5 225.2,133.4 226.0,131.9 226.7,131.4 227.4,130.8 228.1,129.5 228.8,128.6 229.5,127.9 230.2,127.3 230.9,126.6 231.6,125.1 232.3,124.3 233.0,122.7 233.7,121.4 234.5,120.3 235.2,119.3 235.9,118.0 236.6,116.9 237.3,115.7 238.0,114.8 238.7,112.9 239.4,111.1 240.1,109.8 240.8,108.4 241.5,106.7 242.3,104.9 243.0,103.7 243.7,102.9 244.4,102.0 245.1,100.7 245.8,99.4 246.5,98.4 247.2,97.1 247.9,96.5 248.6,96.2 249.3,95.4 250.0,94.5 250.8,93.1 251.5,92.2 252.2,91.3 252.9,91.1 253.6,90.0 254.3,89.0 255.0,88.6 255.7,88.0 256.4,86.7 257.1,86.4 257.8,86.6 258.6,86.1 259.3,85.5 260.0,85.2 260.7,86.3 261.4,86.6 262.1,86.2 262.8,85.6 263.5,85.8 264.2,85.8 264.9,85.3 265.6,85.3 266.3,85.9 267.1,86.9 267.8,87.6 268.5,88.2 269.2,88.8 269.9,89.8 270.6,91.8 271.3,93.2 272.0,93.9 272.7,94.6 273.4,94.8 274.1,95.8 274.9,97.0 275.6,98.1 276.3,99.4 277.0,99.7 277.7,100.6 278.4,101.7 279.1,102.8 279.8,104.0 280.5,104.8 281.2,107.0 281.9,108.9 282.6,110.7 283.4,112.9 284.1,114.9 284.8,116.3 285.5,118.0 286.2,119.8 286.9,121.5 287.6,122.9 288.3,124.6 289.0,126.6 289.7,128.2 290.4,130.0 291.2,131.4 291.9,132.3 292.6,133.6 293.3,134.8 294.0,136.1 294.7,137.6 295.4,138.7 296.1,139.7 296.8,140.6 297.5,142.3 298.2,143.4 299.0,145.1 299.7,147.2 300.4,148.5 301.1,148.8 301.8,149.5 302.5,151.0 303.2,152.1 303.9,153.1 304.6,153.9 305.3,155.7 306.0,156.6 306.7,156.4 307.5,157.1 308.2,158.1 308.9,159.1 309.6,159.2 310.3,160.4 311.0,161.1 311.7,161.7 312.4,162.4 313.1,162.0 313.8,162.3 314.5,163.4 315.3,164.4 316.0,164.3 316.7,164.4 317.4,165.0 318.1,165.0 318.8,165.1 319.5,165.8 320.2,166.9 320.9,168.0 321.6,167.2 322.3,167.6 323.0,168.1 323.8,168.7 324.5,169.8 325.2,170.1 325.9,169.9 326.6,169.5 327.3,169.5 328.0,170.1 328.7,170.2 329.4,170.3 330.1,170.8 330.8,170.3 331.6,170.7 332.3,171.7 333.0,171.8 333.7,172.0 334.4,171.7 335.1,172.1 335.8,172.1 336.5,173.1 337.2,173.1 337.9,173.1 338.6,173.5 339.3,172.8 340.1,172.4 340.8,173.3 341.5,173.3 342.2,173.4 342.9,173.1 343.6,173.1 344.3,171.9 345.0,171.2 345.7,171.5 346.4,172.2 347.1,171.1 347.9,170.7 348.6,171.3 349.3,172.5 350.0,172.8 350.7,172.4 351.4,173.1 352.1,173.4 352.8,173.8 353.5,173.6 354.2,172.8 354.9,173.0 355.6,173.2 356.4,173.6 357.1,173.6 357.8,173.7 358.5,174.1 359.2,174.1 359.9,174.3 360.6,174.2 361.3,174.3 362.0,175.0 362.7,175.4 363.4,175.5 364.2,175.2 364.9,174.7 365.6,174.8 366.3,174.5 367.0,173.6 367.7,174.2 368.4,175.7 369.1,174.8 369.8,173.5 370.5,174.6 371.2,175.2 371.9,175.2 372.7,176.9 373.4,177.0 374.1,176.4 374.8,176.0 375.5,176.3 376.2,176.7 376.9,176.4 377.6,175.9 378.3,176.2 379.0,176.5 379.7,176.4 380.5,176.0 381.2,176.6 381.9,176.8 382.6,177.0 383.3,176.8 384.0,176.4 384.7,177.5 385.4,177.6 386.1,176.7 386.8,176.9 387.5,176.9 388.2,177.4 389.0,178.4 389.7,178.8 390.4,179.3 391.1,178.3 391.8,177.5 392.5,177.6 393.2,177.3 393.9,179.1 394.6,179.2 395.3,179.0 396.0,178.8 396.8,178.4 397.5,178.6 398.2,178.5 398.9,178.8 399.6,179.2 400.3,179.1 401.0,180.1 401.7,179.6 402.4,179.9 403.1,179.5 403.8,179.3 404.6,180.2 405.3,180.4 406.0,180.3 406.7,180.4 407.4,180.4 408.1,180.9 408.8,180.8 409.5,181.3 410.2,181.6 410.9,180.7 411.6,180.8 412.3,180.9 413.1,180.9 413.8,180.9 414.5,181.6 415.2,182.1 415.9,181.9 416.6,181.6 417.3,182.7 418.0,183.2 418.7,182.7 419.4,182.1 420.1,182.7 420.9,184.4 421.6,184.7 422.3,183.8 423.0,183.2 423.7,184.1 424.4,184.3 425.1,184.6 425.8,183.9 426.5,184.0 427.2,184.1 427.9,184.4 428.6,184.2 429.4,184.7 430.1,184.3 430.8,184.1 431.5,184.9 432.2,184.7 432.9,183.8 433.6,184.7 434.3,185.3 435.0,185.9 435.7,186.6 436.4,185.5 437.2,185.0 437.9,184.2 438.6,184.2 439.3,184.9 440.0,185.3 440.7,185.6 441.4,186.1 442.1,186.4 442.8,186.3 443.5,185.8 444.2,185.7 444.9,185.3 445.7,185.7 446.4,185.7 447.1,184.6 447.8,183.2 448.5,184.9 449.2,186.9 449.9,185.9 450.6,185.1 451.3,185.7 452.0,186.3 452.7,185.9 453.5,185.2 454.2,184.6 454.9,184.7 455.6,184.8 456.3,185.8 457.0,186.8 457.7,186.4 458.4,185.1 459.1,184.4 459.8,184.5 460.5,185.6 461.2,186.1 462.0,186.2 462.7,185.6 463.4,184.5 464.1,184.3 464.8,185.7 465.5,185.8 466.2,186.2 466.9,184.6 467.6,184.4 468.3,185.0 469.0,185.9 469.8,186.2 470.5,185.8 471.2,185.9 471.9,185.1 472.6,185.1 473.3,184.9 474.0,185.2 474.7,185.5 475.4,186.7 476.1,187.7 476.8,185.6 477.5,185.4 478.3,185.9 479.0,185.9 479.7,186.0 480.4,185.1 481.1,185.2 481.8,184.9 482.5,185.3 483.2,185.2 483.9,184.8 484.6,184.0 485.3,183.2 486.1,183.7 486.8,184.8 487.5,184.8 488.2,184.8 488.9,184.2 489.6,185.0 490.3,184.9 491.0,183.6 491.7,184.8 492.4,185.8 493.1,184.9 493.9,185.2 494.6,185.1 495.3,185.1 496.0,184.4 496.7,184.0 497.4,184.1 498.1,184.2 498.8,184.0 499.5,184.2 500.2,185.0 500.9,184.3 501.6,183.6 502.4,183.9 503.1,184.3 503.8,183.5 504.5,184.7 505.2,185.5 505.9,185.6 506.6,184.5 507.3,184.1 508.0,184.7 508.7,185.1 509.4,185.6 510.2,184.9 510.9,184.1 511.6,183.7 512.3,184.3 513.0,185.0 513.7,185.5 514.4,185.4 515.1,185.9 515.8,185.7 516.5,184.3 517.2,183.8 517.9,184.1 518.7,184.4 519.4,184.5 520.1,185.4 520.8,185.8 521.5,186.0 522.2,185.4 522.9,185.0 523.6,185.1 524.3,184.7 525.0,185.0 525.7,185.1 526.5,185.3 527.2,184.2 527.9,185.6 528.6,186.2 529.3,185.8 530.0,185.9 530.7,186.2 531.4,186.9 532.1,187.1 532.8,186.6 533.5,186.8 534.2,186.1 535.0,186.3 535.7,186.2 536.4,185.6 537.1,186.1 537.8,186.2 538.5,187.1" fill="none" stroke="#28A55F" stroke-width="3.4" stroke-linejoin="round" stroke-linecap="butt"/>
<path d="M43.1,131.7 43.8,131.1 44.5,131.4 45.2,132.3 45.9,132.7 46.6,132.5 47.4,132.0 48.1,132.4 48.8,131.9 49.5,132.0 50.2,132.5 50.9,131.6 51.6,130.8 52.3,131.8 53.0,131.8 53.7,131.7 54.4,132.2 55.1,131.6 55.9,131.8 56.6,132.3 57.3,132.7 58.0,130.9 58.7,131.2 59.4,131.8 60.1,132.0 60.8,131.1 61.5,131.1 62.2,131.9 62.9,131.3 63.7,131.3 64.4,131.3 65.1,131.1 65.8,130.3 66.5,130.5 67.2,131.1 67.9,131.6 68.6,132.1 69.3,132.0 70.0,131.8 70.7,131.8 71.4,132.1 72.2,131.3 72.9,131.0 73.6,130.4 74.3,130.8 75.0,131.9 75.7,131.5 76.4,130.6 77.1,131.4 77.8,131.5 78.5,131.3 79.2,131.9 80.0,132.0 80.7,132.3 81.4,132.6 82.1,132.3 82.8,132.7 83.5,132.3 84.2,132.4 84.9,133.1 85.6,132.7 86.3,132.1 87.0,132.1 87.7,131.9 88.5,131.4 89.2,132.0 89.9,131.7 90.6,130.7 91.3,130.8 92.0,131.3 92.7,131.0 93.4,131.6 94.1,130.5 94.8,129.8 95.5,128.7 96.3,129.2 97.0,129.4 97.7,129.6 98.4,129.3 99.1,129.1 99.8,129.9 100.5,129.1 101.2,127.9 101.9,127.3 102.6,125.9 103.3,126.7 104.1,127.5 104.8,126.7 105.5,126.3 106.2,125.8 106.9,126.1 107.6,125.8 108.3,125.5 109.0,125.8 109.7,125.9 110.4,124.8 111.1,123.3 111.8,123.6 112.6,123.3 113.3,122.1 114.0,121.5 114.7,121.7 115.4,121.7 116.1,121.4 116.8,120.9 117.5,120.9 118.2,120.7 118.9,120.2 119.6,119.8 120.4,118.9 121.1,118.1 121.8,118.5 122.5,119.1 123.2,118.9 123.9,116.6 124.6,116.1 125.3,116.0 126.0,115.9 126.7,115.4 127.4,115.4 128.1,115.4 128.9,114.4 129.6,114.4 130.3,115.0 131.0,114.1 131.7,113.0 132.4,113.7 133.1,112.8 133.8,112.4 134.5,111.9 135.2,111.4 135.9,111.2 136.7,111.3 137.4,110.4 138.1,109.7 138.8,109.9 139.5,109.7 140.2,109.0 140.9,109.6 141.6,109.4 142.3,109.8 143.0,110.1 143.7,109.5 144.4,109.0 145.2,108.2 145.9,107.5 146.6,107.0 147.3,107.5 148.0,107.2 148.7,106.5 149.4,107.9 150.1,108.9 150.8,108.6 151.5,108.4 152.2,107.4 153.0,106.8 153.7,107.1 154.4,106.9 155.1,106.7 155.8,107.6 156.5,107.4 157.2,106.8 157.9,107.0 158.6,107.1 159.3,107.7 160.0,108.0 160.7,106.7 161.5,106.4 162.2,108.1 162.9,108.7 163.6,107.0 164.3,106.1 165.0,106.2 165.7,106.9 166.4,107.2 167.1,107.3 167.8,107.6 168.5,106.9 169.3,106.6 170.0,106.8 170.7,108.3 171.4,108.7 172.1,108.3 172.8,107.4 173.5,108.0 174.2,107.9 174.9,107.8 175.6,107.5 176.3,106.9 177.0,106.4 177.8,105.7 178.5,105.9 179.2,106.0 179.9,105.7 180.6,106.4 181.3,106.9 182.0,105.9 182.7,105.1 183.4,105.2 184.1,106.0 184.8,106.6 185.6,105.8 186.3,105.0 187.0,104.3 187.7,104.8 188.4,104.9 189.1,104.2 189.8,103.9 190.5,103.6 191.2,104.1 191.9,104.3 192.6,103.6 193.4,103.1 194.1,102.4 194.8,101.6 195.5,101.2 196.2,101.2 196.9,101.2 197.6,101.0 198.3,101.1 199.0,100.9 199.7,100.7 200.4,99.8 201.1,98.8 201.9,98.0 202.6,97.3 203.3,97.7 204.0,96.7 204.7,96.3 205.4,96.4 206.1,94.9 206.8,94.2 207.5,93.9 208.2,93.3 208.9,93.0 209.7,92.6 210.4,92.1 211.1,91.3 211.8,90.8 212.5,89.9 213.2,89.6 213.9,88.8 214.6,87.1 215.3,86.7 216.0,86.0 216.7,84.2 217.4,83.2 218.2,83.6 218.9,83.2 219.6,82.9 220.3,82.0 221.0,81.1 221.7,80.3 222.4,79.5 223.1,78.5 223.8,78.0 224.5,77.6 225.2,76.7 226.0,75.9 226.7,74.8 227.4,73.5 228.1,72.5 228.8,71.8 229.5,70.5 230.2,69.4 230.9,67.9 231.6,67.2 232.3,66.2 233.0,64.6 233.7,63.0 234.5,62.2 235.2,61.2 235.9,59.6 236.6,58.3 237.3,57.4 238.0,55.8 238.7,54.3 239.4,53.2 240.1,51.7 240.8,50.2 241.5,49.3 242.3,48.0 243.0,46.9 243.7,45.5 244.4,44.8 245.1,44.2 245.8,43.1 246.5,42.0 247.2,41.2 247.9,40.3 248.6,39.2 249.3,38.3 250.0,37.5 250.8,36.9 251.5,35.4 252.2,34.5 252.9,33.3 253.6,33.1 254.3,32.7 255.0,31.9 255.7,32.4 256.4,31.7 257.1,31.7 257.8,32.1 258.6,31.9 259.3,32.2 260.0,31.5 260.7,30.1 261.4,29.8 262.1,29.8 262.8,29.7 263.5,29.1 264.2,29.4 264.9,30.3 265.6,30.9 266.3,31.9 267.1,32.8 267.8,34.4 268.5,35.4 269.2,35.2 269.9,35.3 270.6,36.5 271.3,38.2 272.0,38.9 272.7,39.9 273.4,40.1 274.1,40.9 274.9,42.4 275.6,43.8 276.3,44.2 277.0,44.8 277.7,46.2 278.4,47.5 279.1,48.9 279.8,50.3 280.5,52.2 281.2,54.3 281.9,56.1 282.6,58.8 283.4,61.2 284.1,62.6 284.8,63.6 285.5,65.0 286.2,67.2 286.9,68.5 287.6,70.0 288.3,71.8 289.0,73.4 289.7,75.3 290.4,77.2 291.2,78.4 291.9,80.2 292.6,81.3 293.3,82.4 294.0,83.9 294.7,85.2 295.4,86.3 296.1,87.1 296.8,87.9 297.5,89.5 298.2,90.0 299.0,90.8 299.7,92.3 300.4,93.4 301.1,94.1 301.8,95.2 302.5,96.5 303.2,97.8 303.9,97.9 304.6,98.1 305.3,99.1 306.0,100.4 306.7,100.9 307.5,101.5 308.2,102.7 308.9,103.5 309.6,103.9 310.3,104.5 311.0,105.0 311.7,105.6 312.4,106.3 313.1,106.7 313.8,107.8 314.5,108.2 315.3,108.4 316.0,108.9 316.7,109.1 317.4,108.9 318.1,109.1 318.8,109.7 319.5,110.5 320.2,110.1 320.9,110.9 321.6,111.8 322.3,111.5 323.0,111.6 323.8,111.9 324.5,112.3 325.2,113.8 325.9,113.6 326.6,113.2 327.3,113.6 328.0,114.3 328.7,114.2 329.4,114.3 330.1,114.8 330.8,114.6 331.6,115.0 332.3,115.4 333.0,115.4 333.7,115.8 334.4,116.3 335.1,117.6 335.8,116.8 336.5,116.5 337.2,115.7 337.9,115.4 338.6,115.9 339.3,116.0 340.1,116.1 340.8,116.5 341.5,117.4 342.2,118.3 342.9,118.2 343.6,117.4 344.3,118.1 345.0,117.9 345.7,116.6 346.4,116.4 347.1,117.2 347.9,118.1 348.6,117.4 349.3,117.4 350.0,118.1 350.7,117.6 351.4,117.6 352.1,118.0 352.8,117.4 353.5,116.1 354.2,116.8 354.9,117.8 355.6,117.6 356.4,118.6 357.1,118.6 357.8,118.6 358.5,118.3 359.2,117.4 359.9,117.6 360.6,118.1 361.3,119.1 362.0,119.9 362.7,119.3 363.4,118.8 364.2,118.1 364.9,118.8 365.6,119.3 366.3,119.7 367.0,120.5 367.7,121.0 368.4,120.6 369.1,120.3 369.8,119.8 370.5,120.7 371.2,120.6 371.9,120.0 372.7,120.8 373.4,121.1 374.1,121.9 374.8,122.0 375.5,122.2 376.2,122.8 376.9,122.1 377.6,121.8 378.3,122.0 379.0,122.1 379.7,121.9 380.5,122.6 381.2,122.7 381.9,122.0 382.6,121.9 383.3,123.4 384.0,124.1 384.7,124.0 385.4,124.3 386.1,124.6 386.8,124.2 387.5,124.4 388.2,123.6 389.0,123.1 389.7,123.6 390.4,123.9 391.1,124.7 391.8,125.5 392.5,125.3 393.2,125.8 393.9,126.6 394.6,126.5 395.3,125.5 396.0,125.4 396.8,126.4 397.5,125.1 398.2,124.2 398.9,124.7 399.6,126.2 400.3,125.7 401.0,126.1 401.7,126.8 402.4,127.3 403.1,126.5 403.8,126.9 404.6,127.7 405.3,128.2 406.0,127.7 406.7,127.7 407.4,127.9 408.1,128.7 408.8,128.7 409.5,128.2 410.2,128.2 410.9,127.6 411.6,128.0 412.3,128.0 413.1,128.5 413.8,129.8 414.5,130.5 415.2,129.6 415.9,129.1 416.6,129.2 417.3,129.8 418.0,129.9 418.7,130.6 419.4,131.1 420.1,130.6 420.9,130.2 421.6,130.4 422.3,129.7 423.0,129.5 423.7,131.3 424.4,132.3 425.1,131.9 425.8,130.2 426.5,128.6 427.2,129.9 427.9,131.1 428.6,131.2 429.4,131.7 430.1,131.0 430.8,131.4 431.5,131.5 432.2,131.1 432.9,130.4 433.6,131.0 434.3,131.3 435.0,130.8 435.7,130.3 436.4,130.6 437.2,130.8 437.9,131.7 438.6,132.3 439.3,132.1 440.0,131.9 440.7,131.7 441.4,131.5 442.1,130.8 442.8,131.8 443.5,132.5 444.2,132.2 444.9,132.2 445.7,131.5 446.4,132.0 447.1,132.4 447.8,132.7 448.5,133.1 449.2,133.1 449.9,130.5 450.6,130.6 451.3,131.6 452.0,132.0 452.7,131.7 453.5,131.3 454.2,130.7 454.9,130.7 455.6,131.6 456.3,132.7 457.0,132.5 457.7,133.8 458.4,133.2 459.1,132.2 459.8,132.6 460.5,132.5 461.2,131.0 462.0,130.9 462.7,132.3 463.4,131.9 464.1,132.5 464.8,132.3 465.5,131.3 466.2,132.3 466.9,132.9 467.6,133.1 468.3,132.6 469.0,132.6 469.8,132.6 470.5,132.7 471.2,133.6 471.9,133.7 472.6,133.7 473.3,133.3 474.0,133.0 474.7,131.9 475.4,132.0 476.1,132.8 476.8,132.4 477.5,132.1 478.3,132.0 479.0,131.3 479.7,132.1 480.4,132.5 481.1,131.8 481.8,131.8 482.5,133.0 483.2,132.5 483.9,131.3 484.6,131.0 485.3,130.4 486.1,130.0 486.8,130.1 487.5,131.0 488.2,132.0 488.9,132.3 489.6,132.0 490.3,132.4 491.0,131.9 491.7,130.8 492.4,130.8 493.1,131.6 493.9,132.1 494.6,131.9 495.3,130.3 496.0,130.2 496.7,132.0 497.4,131.7 498.1,131.8 498.8,131.1 499.5,130.6 500.2,131.8 500.9,132.0 501.6,132.2 502.4,131.5 503.1,130.5 503.8,130.9 504.5,131.3 505.2,130.7 505.9,131.0 506.6,131.3 507.3,130.1 508.0,130.3 508.7,130.9 509.4,131.3 510.2,130.7 510.9,130.3 511.6,130.7 512.3,130.5 513.0,130.9 513.7,131.0 514.4,131.0 515.1,131.6 515.8,131.6 516.5,130.7 517.2,131.2 517.9,131.2 518.7,131.2 519.4,131.7 520.1,132.3 520.8,131.8 521.5,131.3 522.2,130.9 522.9,131.5 523.6,131.7 524.3,131.3 525.0,131.7 525.7,132.5 526.5,132.9 527.2,132.6 527.9,133.5 528.6,133.3 529.3,132.9 530.0,132.6 530.7,132.1 531.4,131.6 532.1,131.8 532.8,132.1 533.5,132.5 534.2,133.5 535.0,133.8 535.7,133.1 536.4,132.6 537.1,131.4 537.8,130.6 538.5,131.3" fill="none" stroke="#A568E2" stroke-width="3.4" stroke-linejoin="round" stroke-linecap="butt"/>
</g>
<g stroke="#000" stroke-width="1.65" fill="none" stroke-linecap="butt">
<rect x="42.8" y="7.0" width="495.99999999999994" height="367.0"/>
<line x1="42.8" y1="374.0" x2="42.8" y2="381.2"/>
<line x1="142.0" y1="374.0" x2="142.0" y2="381.2"/>
<line x1="241.2" y1="374.0" x2="241.2" y2="381.2"/>
<line x1="340.4" y1="374.0" x2="340.4" y2="381.2"/>
<line x1="439.6" y1="374.0" x2="439.6" y2="381.2"/>
<line x1="538.8" y1="374.0" x2="538.8" y2="381.2"/>
<line x1="92.4" y1="374.0" x2="92.4" y2="377.9"/>
<line x1="191.6" y1="374.0" x2="191.6" y2="377.9"/>
<line x1="290.8" y1="374.0" x2="290.8" y2="377.9"/>
<line x1="390.0" y1="374.0" x2="390.0" y2="377.9"/>
<line x1="489.2" y1="374.0" x2="489.2" y2="377.9"/>
</g>
<g class="tick">
<text x="42.8" y="398.4" text-anchor="middle">10</text>
<text x="142.0" y="398.4" text-anchor="middle">20</text>
<text x="241.2" y="398.4" text-anchor="middle">30</text>
<text x="340.4" y="398.4" text-anchor="middle">40</text>
<text x="439.6" y="398.4" text-anchor="middle">50</text>
<text x="538.8" y="398.4" text-anchor="middle">60</text>
</g>
<g class="b" font-size="15.1px" letter-spacing="0.28">
<text x="46.7" y="122.1">Zn2</text>
<text x="45.0" y="177.3">Zn1</text>
<text x="45.9" y="230.6">Zn0.5</text>
<text x="45.9" y="278.5">Zn0.25</text>
<text x="44.6" y="331.3">Base</text>
</g>
<text class="b" font-size="18.9px" x="290.7" y="429.7" text-anchor="middle">2θ (º)</text>
<text class="b" font-size="18.3px" letter-spacing="0.24" transform="translate(18.6,190.2) rotate(-90)" text-anchor="middle">Intensity (arb. units)</text>
</svg>
</body>
</html>
